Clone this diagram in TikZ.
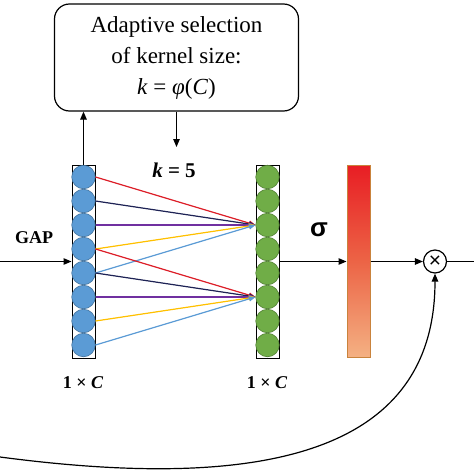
\documentclass[tikz,border=0pt]{standalone}
\usepackage{fontspec}
\setmainfont{Liberation Serif}
\newfontfamily\sansf{Liberation Sans}
\usetikzlibrary{arrows.meta}
\definecolor{cblue}{RGB}{91,155,213}
\definecolor{cbluedk}{RGB}{65,113,156}
\definecolor{cgreen}{RGB}{112,173,71}
\definecolor{cgreendk}{RGB}{80,126,50}
\definecolor{lred}{RGB}{220,30,40}
\definecolor{lnavy}{RGB}{30,35,85}
\definecolor{lpurple}{RGB}{112,48,160}
\definecolor{lyellow}{RGB}{255,192,0}
\definecolor{lblue}{RGB}{91,155,213}
\definecolor{bartop}{RGB}{232,30,36}
\definecolor{barmid}{RGB}{236,100,70}
\definecolor{barbot}{RGB}{244,177,131}
\definecolor{barbd}{RGB}{201,131,60}
\begin{document}
\begin{tikzpicture}[x=1pt,y=-1pt,
  arr/.style={line width=1.2pt,-{Triangle[length=8pt,width=6.5pt]}},
  carr/.style={line width=1.2pt,-{Triangle[length=6.5pt,width=5pt]}},
  col/.style={draw=black,line width=1pt,fill=white,minimum width=23pt,minimum height=193pt,inner sep=0pt},
  bcirc/.style={circle,draw=cbluedk,fill=cblue,line width=0.6pt,minimum size=23.5pt,inner sep=0pt},
  gcirc/.style={circle,draw=cgreendk,fill=cgreen,line width=0.6pt,minimum size=23.5pt,inner sep=0pt},
  lbl/.style={font=\fontsize{18}{20}\selectfont\bfseries,inner sep=0pt}]
\useasboundingbox (0,0) rectangle (474,474);
% adaptive box
\node[draw=black,line width=1.2pt,rounded corners=15pt,minimum width=244pt,minimum height=107pt,
  align=center,font=\fontsize{23}{31}\selectfont] (box) at (176.5,57.5)
  {Adaptive selection\\of kernel size:\\\textit{k} = \textit{φ}(\textit{C})};
% columns
\node[col] (bc) at (83.5,261.5) {};
\node[col] (gc) at (267.5,261.5) {};
\foreach \i in {1,...,8}{
  \node[bcirc] (b\i) at (83.5,{177+(\i-1)*24}) {};
  \node[gcirc] (g\i) at (267.5,{177+(\i-1)*24}) {};
}
% colored connections
\foreach \s/\c in {1/lred,2/lnavy,3/lpurple,4/lyellow,5/lblue}{
  \draw[carr,draw=\c,fill=\c] (b\s.east) -- (g3.west);
}
\foreach \s/\c in {4/lred,5/lnavy,6/lpurple,7/lyellow,8/lblue}{
  \draw[carr,draw=\c,fill=\c] (b\s.east) -- (g6.west);
}
% bar
\node[draw=barbd,line width=1pt,minimum width=23pt,minimum height=192pt,inner sep=0pt,
  top color=bartop,bottom color=barbot,middle color=barmid] (bar) at (358.5,261.5) {};
% multiply
\node[circle,draw=black,line width=1.2pt,minimum size=23pt,inner sep=0pt,font=\sansf\fontsize{21}{21}\selectfont] (mul) at (435,261.5) {×};
% labels
\node[lbl] (gap) at (34,238) {GAP};
\node[font=\fontsize{21}{22}\selectfont\bfseries,inner sep=0pt] (k5) at (174,170) {\textit{k} = 5};
\node[font=\sansf\fontsize{26}{26}\selectfont\bfseries,inner sep=0pt] (sig) at (319,230) {σ};
\node[lbl] (l1) at (83,383) {1 × \textit{C}};
\node[lbl] (l2) at (267,383) {1 × \textit{C}};
% coordinates
\coordinate (in) at (0,261.5);
\coordinate (out) at (474,261.5);
\coordinate (kend) at (176.5,147);
\coordinate (cin) at (0,457);
% black connectors
\draw[arr] (in) -- (bc.west);
\draw[arr] (bc.north) -- (bc.north |- box.south);
\draw[arr] (box.south) -- (kend);
\draw[arr] (gc.east) -- (bar.west);
\draw[arr] (bar.east) -- (mul.west);
\draw[line width=1.2pt] (mul.east) -- (out);
\draw[arr] (cin) .. controls (250,490) and (435,460) .. (mul.south);
\end{tikzpicture}
\end{document}
